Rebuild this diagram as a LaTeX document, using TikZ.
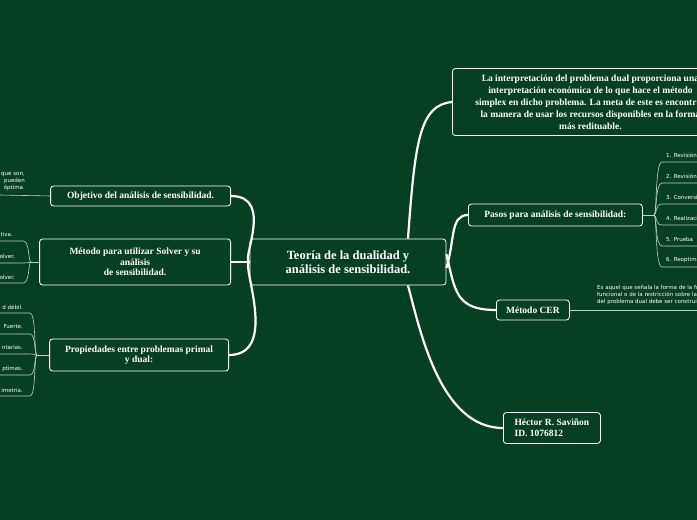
\documentclass[tikz,border=0pt]{standalone}
\usepackage{fontspec}
\setmainfont{Liberation Serif}
\newfontfamily\leaffont{DejaVu Sans}
\begin{document}
\begin{tikzpicture}[x=1pt,y=-1pt,
  bx/.style={draw=white,rounded corners=3pt,line width=0.8pt,fill=bg,text=white,font=\bfseries,align=center,inner sep=3pt},
  lf/.style={text=white,font=\leaffont\fontsize{5.5}{7}\selectfont,inner sep=1pt},
  br/.style={draw=white,line width=2.2pt},
  ln/.style={draw=white!75!bg,line width=0.6pt}]
\definecolor{bg}{RGB}{6,64,34}
\fill[bg] (0,0) rectangle (697,520);
\useasboundingbox (0,0) rectangle (697,520);
\clip (0,0) rectangle (697,520);
% central
\node[bx,minimum width=196,minimum height=46,font=\bfseries\fontsize{12.5}{13.5}\selectfont] (c) at (348,262) {Teoría de la dualidad y\\análisis de sensibilidad.};
\node[bx,font=\bfseries\fontsize{9.5}{12}\selectfont,minimum width=276,minimum height=67,anchor=west] (t) at (452,102) {La interpretación del problema dual proporciona una\\interpretación económica de lo que hace el método\\simplex en dicho problema. La meta de este es encontrar\\la manera de usar los recursos disponibles en la forma\\más redituable.};
\node[bx,font=\bfseries\fontsize{9.5}{10}\selectfont,minimum width=174,minimum height=22,anchor=west] (p) at (468,215) {Pasos para análisis de sensibilidad:};
\node[bx,font=\bfseries\fontsize{9.5}{10}\selectfont,minimum width=73,minimum height=20,anchor=west] (m) at (496,310) {Método CER};
\node[bx,font=\bfseries\fontsize{9.5}{10.5}\selectfont,minimum width=97,minimum height=31,anchor=west,align=left] (h) at (503,428) {Héctor R. Saviñon\\ID. 1076812};
\node[bx,font=\bfseries\fontsize{9.5}{10}\selectfont,minimum width=180,minimum height=20,anchor=east] (o) at (231,196) {Objetivo del análisis de sensibilidad.};
\node[bx,font=\bfseries\fontsize{9.5}{10.5}\selectfont,minimum width=191,minimum height=46,anchor=east] (s) at (231,262) {Método para utilizar Solver y su\\análisis\\de sensibilidad.};
\node[bx,font=\bfseries\fontsize{9.5}{10.5}\selectfont,minimum width=179,minimum height=32,anchor=east] (pr) at (229,355) {Propiedades entre problemas primal\\y dual:};
% branches
\draw[br] ([xshift=60]c.north) .. controls (415,140) and (420,105) .. (t.west);
\draw[br] ([yshift=-6]c.east) .. controls (455,240) and (450,215) .. (p.west);
\draw[br] ([yshift=8]c.east) .. controls (455,290) and (455,310) .. (m.west);
\draw[br] ([xshift=60]c.south) .. controls (420,330) and (440,428) .. (h.west);
\draw[br] (c.west) .. controls (240,262) and (275,196) .. (o.east);
\draw[br] (c.west) -- (s.east);
\draw[br] (c.west) .. controls (240,262) and (280,355) .. (pr.east);
% pasos leaves
\coordinate (pb) at (654,215);
\draw[ln] (p.east) -- (pb);
\foreach \t [count=\i] in {1. Revisión,2. Revisión,3. Conversión,4. Realización,5. Prueba,6. Reoptimización}{
  \pgfmathsetmacro\yy{155+21*(\i-1)}
  \node[lf,anchor=west] (pl\i) at (665,\yy) {\t};
  \draw[ln] (pb) .. controls (657,215) and (655,\yy+7) .. (662,\yy+7) -- (697,\yy+7);
}
% CER leaf
\node[lf,anchor=west,align=left] (cl) at (596,295) {Es aquel que señala la forma de la función\\funcional o de la restricción sobre la\\del problema dual debe ser construida};
\draw[ln] (m.east) -- (697,310);
% objetivo leaf
\node[lf,anchor=east,align=right] (ol) at (26,182) {que son,\\pueden\\óptima.};
\draw[ln] (o.west) -- (0,195);
% solver leaves
\coordinate (sb) at (31,262);
\draw[ln] (s.west) -- (sb);
\node[lf,anchor=east] at (14,234) {itiva.};
\node[lf,anchor=east] at (16,256) {olver.};
\node[lf,anchor=east] at (16,277) {olver.};
\foreach \yy in {241,263,283}{\draw[ln] (sb) .. controls (28,262) and (30,\yy) .. (23,\yy) -- (0,\yy);}
% propiedades leaves
\coordinate (prb) at (37,355);
\draw[ln] (pr.west) -- (prb);
\node[lf,anchor=east] at (24,307) {d débil.};
\node[lf,anchor=east] at (24,327) {Fuerte.};
\node[lf,anchor=east] at (24,347) {ntarias.};
\node[lf,anchor=east] at (24,369) {ptimas.};
\node[lf,anchor=east] at (24,390) {imetría.};
\foreach \yy in {313,334,354,375,396}{\draw[ln] (prb) .. controls (34,355) and (36,\yy) .. (30,\yy) -- (0,\yy);}
\end{tikzpicture}
\end{document}
